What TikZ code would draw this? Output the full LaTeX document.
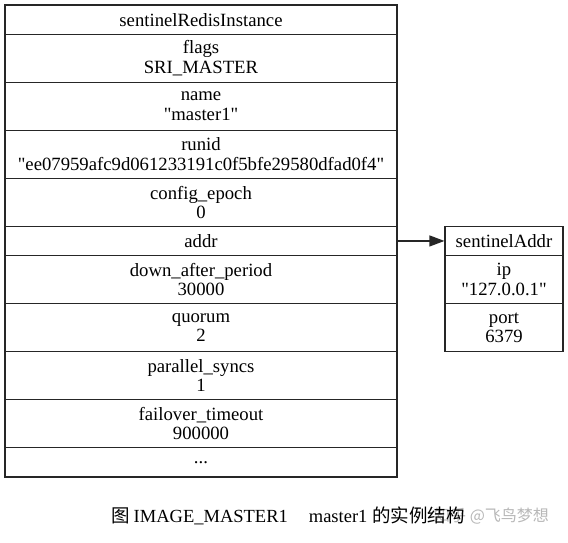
\documentclass[tikz,border=0pt]{standalone}
\usepackage{fontspec}
\setmainfont{Liberation Serif}[Ligatures=TeXOff]
\newfontfamily\cjk{Noto Sans CJK SC}
\usetikzlibrary{arrows.meta}
\begin{document}
\begin{tikzpicture}[x=1pt,y=-1pt,
  cell/.style={draw=black!85, line width=1.2pt, rectangle, inner sep=0pt,
    align=center, font=\fontsize{18.7}{19.5}\selectfont},
  lcell/.style={cell, minimum width=392pt},
  rcell/.style={cell, minimum width=118pt},
  one/.style={minimum height=29.3pt},
  two/.style={minimum height=48pt},
  link/.style={line width=1.2pt, draw=black!85, -{Triangle[length=15pt,width=11pt]}}]
\useasboundingbox (0,0) rectangle (568,542);
\fill[white] (0,0) rectangle (568,542);
% left table
\node[lcell,one] (r0) at (201,19.65) {sentinelRedisInstance};
\node[lcell,two] (r1) at (201,58.3) {flags\\SRI\_MASTER};
\node[lcell,two] (r2) at (201,106.3) {name\\"master1"};
\node[lcell,two] (r3) at (201,154.3) {runid\\"ee07959afc9d061233191c0f5bfe29580dfad0f4"};
\node[lcell,two] (r4) at (201,202.3) {config\_epoch\\0};
\node[lcell,one] (r5) at (201,240.95) {addr};
\node[lcell,two] (r6) at (201,279.6) {down\_after\_period\\30000};
\node[lcell,two] (r7) at (201,327.6) {quorum\\2};
\node[lcell,two] (r8) at (201,375.6) {parallel\_syncs\\1};
\node[lcell,two] (r9) at (201,423.6) {failover\_timeout\\900000};
\node[lcell,one] (r10) at (201,462.25) {...};
% right table
\node[rcell,one] (s0) at (504,240.95) {sentinelAddr};
\node[rcell,two] (s1) at (504,279.6) {ip\\"127.0.0.1"};
\node[rcell,two] (s2) at (504,327.6) {port\\6379};
% connector
\draw[link] (r5.east) -- (s0.west);
% watermark and caption
\node[anchor=west, inner sep=0pt, text=black!28, font=\cjk\fontsize{16}{16}\selectfont] (wm) at (434,516) {知乎 @飞鸟梦想};
\node[anchor=west, inner sep=0pt, font=\fontsize{18.5}{19}\selectfont] (cap) at (111,516)
  {{\cjk 图}\hspace{4pt}IMAGE\_MASTER1\hspace{21pt}master1 {\cjk 的实例结构}};
\end{tikzpicture}
\end{document}
